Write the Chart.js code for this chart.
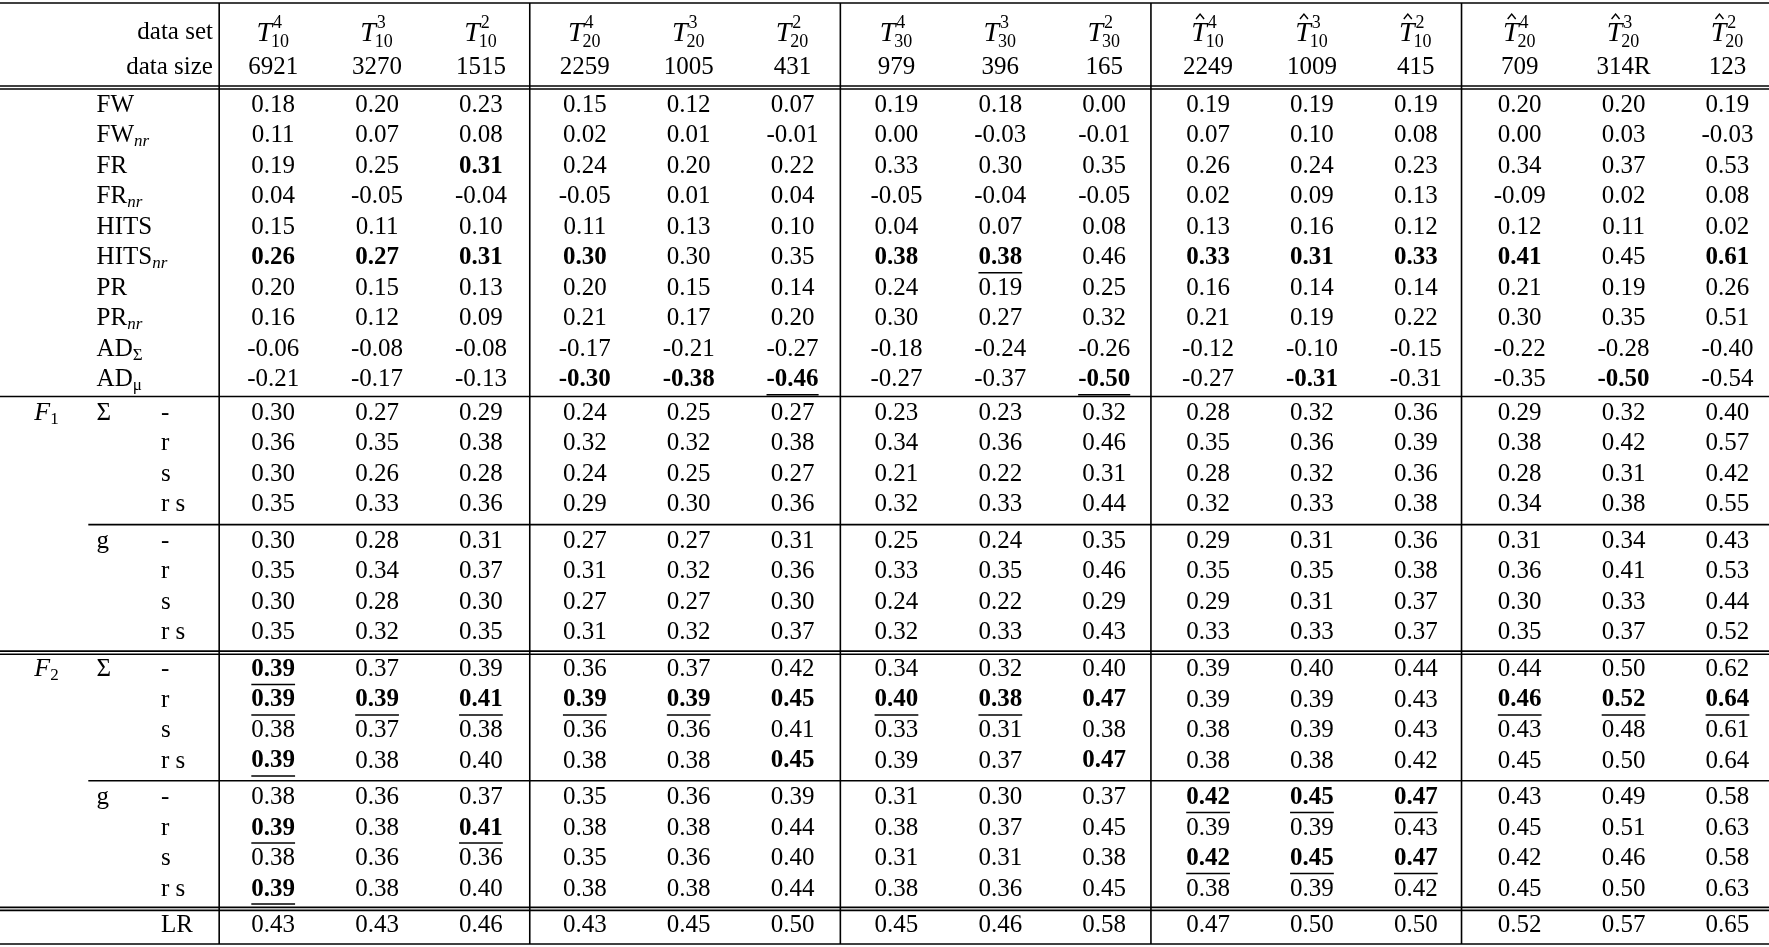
<!DOCTYPE html>
<html>
<head>
<meta charset="utf-8">
<script src="https://cdn.jsdelivr.net/npm/chart.js@4/dist/chart.umd.min.js"></script>
<style>
  html, body { margin: 0; padding: 0; background: #fff; }
  #wrap { width: 1769px; height: 947px; }
</style>
</head>
<body>
<div id="wrap"><canvas id="tbl"></canvas></div>
<script>
// column headers: [hat, subscript, superscript], sizes
const dataSets = [
  [0,'10','4'],[0,'10','3'],[0,'10','2'],
  [0,'20','4'],[0,'20','3'],[0,'20','2'],
  [0,'30','4'],[0,'30','3'],[0,'30','2'],
  [1,'10','4'],[1,'10','3'],[1,'10','2'],
  [1,'20','4'],[1,'20','3'],[1,'20','2']
];
const dataSizes = ['6921','3270','1515','2259','1005','431','979','396','165','2249','1009','415','709','314R','123'];

// baseline measures: [name, subscript]
const baseLabels = [['FW',''],['FW','nr'],['FR',''],['FR','nr'],['HITS',''],['HITS','nr'],['PR',''],['PR','nr'],['AD','Σ'],['AD','μ']];
const baseValues = [
  [0.18,0.20,0.23,0.15,0.12,0.07,0.19,0.18,0.00,0.19,0.19,0.19,0.20,0.20,0.19],
  [0.11,0.07,0.08,0.02,0.01,-0.01,0.00,-0.03,-0.01,0.07,0.10,0.08,0.00,0.03,-0.03],
  [0.19,0.25,0.31,0.24,0.20,0.22,0.33,0.30,0.35,0.26,0.24,0.23,0.34,0.37,0.53],
  [0.04,-0.05,-0.04,-0.05,0.01,0.04,-0.05,-0.04,-0.05,0.02,0.09,0.13,-0.09,0.02,0.08],
  [0.15,0.11,0.10,0.11,0.13,0.10,0.04,0.07,0.08,0.13,0.16,0.12,0.12,0.11,0.02],
  [0.26,0.27,0.31,0.30,0.30,0.35,0.38,0.38,0.46,0.33,0.31,0.33,0.41,0.45,0.61],
  [0.20,0.15,0.13,0.20,0.15,0.14,0.24,0.19,0.25,0.16,0.14,0.14,0.21,0.19,0.26],
  [0.16,0.12,0.09,0.21,0.17,0.20,0.30,0.27,0.32,0.21,0.19,0.22,0.30,0.35,0.51],
  [-0.06,-0.08,-0.08,-0.17,-0.21,-0.27,-0.18,-0.24,-0.26,-0.12,-0.10,-0.15,-0.22,-0.28,-0.40],
  [-0.21,-0.17,-0.13,-0.30,-0.38,-0.46,-0.27,-0.37,-0.50,-0.27,-0.31,-0.31,-0.35,-0.50,-0.54]
];
// b = bold, u = bold + underlined
const baseMarks = [
  '...............','...............','..b............','...............','...............',
  'bbbb..bu.bbbb.b','...............','...............','...............','...bbu..u.b..b.'
];

const variants = ['-','r','s','r s'];
const f1Sum = [
  [0.30,0.27,0.29,0.24,0.25,0.27,0.23,0.23,0.32,0.28,0.32,0.36,0.29,0.32,0.40],
  [0.36,0.35,0.38,0.32,0.32,0.38,0.34,0.36,0.46,0.35,0.36,0.39,0.38,0.42,0.57],
  [0.30,0.26,0.28,0.24,0.25,0.27,0.21,0.22,0.31,0.28,0.32,0.36,0.28,0.31,0.42],
  [0.35,0.33,0.36,0.29,0.30,0.36,0.32,0.33,0.44,0.32,0.33,0.38,0.34,0.38,0.55]
];
const f1G = [
  [0.30,0.28,0.31,0.27,0.27,0.31,0.25,0.24,0.35,0.29,0.31,0.36,0.31,0.34,0.43],
  [0.35,0.34,0.37,0.31,0.32,0.36,0.33,0.35,0.46,0.35,0.35,0.38,0.36,0.41,0.53],
  [0.30,0.28,0.30,0.27,0.27,0.30,0.24,0.22,0.29,0.29,0.31,0.37,0.30,0.33,0.44],
  [0.35,0.32,0.35,0.31,0.32,0.37,0.32,0.33,0.43,0.33,0.33,0.37,0.35,0.37,0.52]
];
const f2Sum = [
  [0.39,0.37,0.39,0.36,0.37,0.42,0.34,0.32,0.40,0.39,0.40,0.44,0.44,0.50,0.62],
  [0.39,0.39,0.41,0.39,0.39,0.45,0.40,0.38,0.47,0.39,0.39,0.43,0.46,0.52,0.64],
  [0.38,0.37,0.38,0.36,0.36,0.41,0.33,0.31,0.38,0.38,0.39,0.43,0.43,0.48,0.61],
  [0.39,0.38,0.40,0.38,0.38,0.45,0.39,0.37,0.47,0.38,0.38,0.42,0.45,0.50,0.64]
];
const f2SumMarks = ['u..............','uuuuubuub...uuu','...............','u....b..b......'];
const f2G = [
  [0.38,0.36,0.37,0.35,0.36,0.39,0.31,0.30,0.37,0.42,0.45,0.47,0.43,0.49,0.58],
  [0.39,0.38,0.41,0.38,0.38,0.44,0.38,0.37,0.45,0.39,0.39,0.43,0.45,0.51,0.63],
  [0.38,0.36,0.36,0.35,0.36,0.40,0.31,0.31,0.38,0.42,0.45,0.47,0.42,0.46,0.58],
  [0.39,0.38,0.40,0.38,0.38,0.44,0.38,0.36,0.45,0.38,0.39,0.42,0.45,0.50,0.63]
];
const f2GMarks = ['.........uuu...','u.u............','.........uuu...','u..............'];
const lrValues = [0.43,0.43,0.46,0.43,0.45,0.50,0.45,0.46,0.58,0.47,0.50,0.50,0.52,0.57,0.65];

// build the rows: y in row units
const rows = [];
let y = 3.45;
baseValues.forEach((v, i) => { rows.push({ y, values: v, marks: baseMarks[i], label: baseLabels[i] }); y += 1; });
const sectionY = [];
function addBlock(vals, marks) {
  y += 0.1;
  const start = y;
  vals.forEach((v, i) => { rows.push({ y, values: v, marks: marks ? marks[i] : '', variant: variants[i] }); y += 1; });
  y += 0.1;
  return start;
}
sectionY.push(addBlock(f1Sum), addBlock(f1G), addBlock(f2Sum, f2SumMarks), addBlock(f2G, f2GMarks));
y += 0.1;
const lrY = y;
rows.push({ y, values: lrValues, marks: '', variant: 'LR' });

const points = [];
rows.forEach(r => r.values.forEach((v, c) => points.push({ x: c, y: r.y, v, m: r.marks[c] || '.' })));

const FONT = '"Liberation Serif", "DejaVu Serif", serif';
const font = (sz, it, b) => (it ? 'italic ' : '') + (b ? 'bold ' : '') + sz + 'px ' + FONT;

// draw a run of text parts: {t, sz, it, b, dy}
function rich(ctx, parts, x, yy, align) {
  let w = 0;
  parts.forEach(p => { ctx.font = font(p.sz, p.it, p.b); p.w = ctx.measureText(p.t).width; w += p.w; });
  let cx = align === 'right' ? x - w : align === 'center' ? x - w / 2 : x;
  parts.forEach(p => { ctx.font = font(p.sz, p.it, p.b); ctx.fillText(p.t, cx, yy + (p.dy || 0)); cx += p.w; });
}

const tablePlugin = {
  id: 'tablePlugin',
  afterDatasetsDraw(chart) {
    const { ctx, scales: { x: xs, y: ys } } = chart;
    const X = v => xs.getPixelForValue(v), Y = v => ys.getPixelForValue(v);
    ctx.save();
    ctx.fillStyle = '#000';
    ctx.strokeStyle = '#000';
    ctx.textBaseline = 'middle';

    // cells
    const meta = chart.getDatasetMeta(0);
    meta.data.forEach((el, i) => {
      const p = points[i];
      const txt = p.v.toFixed(2);
      const bold = p.m !== '.';
      ctx.font = font(25, false, bold);
      ctx.textAlign = 'center';
      ctx.fillText(txt, el.x, el.y);
      if (p.m === 'u') {
        const w = ctx.measureText(txt).width;
        ctx.lineWidth = 1.5;
        ctx.beginPath(); ctx.moveTo(el.x - w / 2, el.y + 15); ctx.lineTo(el.x + w / 2, el.y + 15); ctx.stroke();
      }
    });
    ctx.textAlign = 'left';

    // header
    rich(ctx, [{ t: 'data set', sz: 25 }], X(-0.58), Y(1.05), 'right');
    rich(ctx, [{ t: 'data size', sz: 25 }], X(-0.58), Y(2.2), 'right');
    dataSets.forEach((d, c) => {
      const cx = X(c), cy = Y(1.05);
      ctx.font = font(28, true);
      const tw = ctx.measureText('T').width;
      ctx.font = font(18);
      const sw = ctx.measureText(d[1]).width;
      const left = cx - (tw + sw) / 2;
      ctx.font = font(28, true); ctx.fillText('T', left, cy + 2);
      ctx.font = font(18);
      ctx.fillText(d[2], left + tw + 1, cy - 9);
      ctx.fillText(d[1], left + tw - 1, cy + 10);
      if (d[0]) {
        ctx.lineWidth = 1.4;
        ctx.beginPath();
        ctx.moveTo(left + tw / 2 - 3, cy - 13); ctx.lineTo(left + tw / 2 + 1, cy - 18); ctx.lineTo(left + tw / 2 + 5, cy - 13);
        ctx.stroke();
      }
      rich(ctx, [{ t: dataSizes[c], sz: 25 }], cx, Y(2.2), 'center');
    });

    // row labels
    rows.forEach(r => {
      if (r.label) {
        rich(ctx, [{ t: r.label[0], sz: 25 }, { t: r.label[1], sz: 17, it: r.label[1] === 'nr', dy: 6 }], X(-1.7), Y(r.y), 'left');
      } else {
        rich(ctx, [{ t: r.variant, sz: 25 }], X(-1.08), Y(r.y), 'left');
      }
    });
    [['1', sectionY[0]], ['2', sectionY[2]]].forEach(([n, yy]) => {
      rich(ctx, [{ t: 'F', sz: 26, it: true }, { t: n, sz: 17, dy: 6 }], X(-2.3), Y(yy), 'left');
    });
    sectionY.forEach((yy, i) => rich(ctx, [{ t: i % 2 ? 'g' : 'Σ', sz: 25 }], X(-1.7), Y(yy), 'left'));

    // rules
    const hline = (yy, x0) => {
      ctx.beginPath(); ctx.moveTo(X(x0 === undefined ? -2.63 : x0), Y(yy)); ctx.lineTo(X(14.4), Y(yy)); ctx.stroke();
    };
    ctx.lineWidth = 1.6;
    const top = 0.1, bottom = lrY + 0.6;
    hline(top);
    hline(2.82); hline(2.92);
    hline(sectionY[0] - 0.55);
    hline(sectionY[1] - 0.55, -1.78);
    hline(sectionY[2] - 0.6); hline(sectionY[2] - 0.5);
    hline(sectionY[3] - 0.55, -1.78);
    hline(lrY - 0.6); hline(lrY - 0.5);
    hline(bottom);
    [-0.52, 2.47, 5.46, 8.45, 11.44].forEach(xv => {
      ctx.beginPath(); ctx.moveTo(X(xv), Y(top)); ctx.lineTo(X(xv), Y(bottom)); ctx.stroke();
    });
    ctx.restore();
  }
};

new Chart(document.getElementById('tbl'), {
  type: 'scatter',
  data: { datasets: [{ data: points, pointRadius: 0, pointHoverRadius: 0 }] },
  options: {
    responsive: true,
    maintainAspectRatio: false,
    animation: false,
    layout: { padding: 0 },
    plugins: { legend: { display: false }, tooltip: { enabled: false } },
    scales: {
      x: { type: 'linear', display: false, min: -2.63, max: 14.4 },
      y: { type: 'linear', display: false, reverse: true, min: 0, max: lrY + 0.7 }
    }
  },
  plugins: [tablePlugin]
});
</script>
</body>
</html>
